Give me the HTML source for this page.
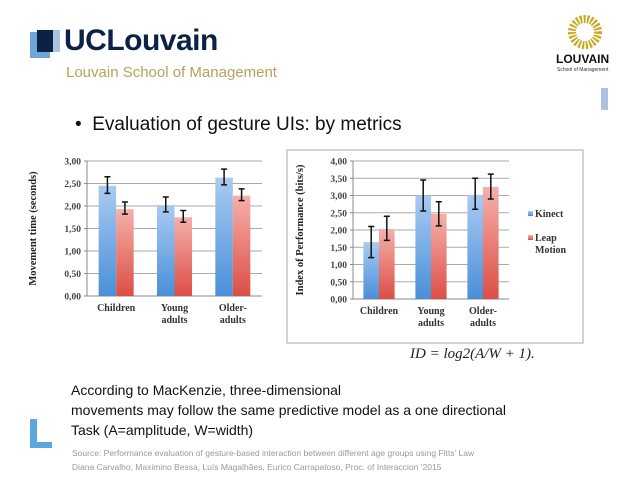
<!DOCTYPE html>
<html><head><meta charset="utf-8"><style>
body{margin:0;width:638px;height:478px;background:#fff;overflow:hidden;position:relative;font-family:"Liberation Sans",sans-serif}
.abs{position:absolute;margin:0}
</style></head><body>
<div class="abs" style="left:30px;top:32px;width:20px;height:26px;background:#6fa6d8"></div>
<div class="abs" style="left:37px;top:30px;width:16px;height:22px;background:#0c2146"></div>
<div class="abs" style="left:53px;top:30px;width:7px;height:22px;background:#a9c3e0"></div>
<div class="abs" style="left:64px;top:24px;font-size:30px;font-weight:bold;color:#0c2146;letter-spacing:-0.5px">UCLouvain</div>
<div class="abs" style="left:66px;top:64px;font-size:15px;color:#b5a35a">Louvain School of Management</div>
<svg class="abs" style="left:566px;top:13px" width="38" height="38"><circle cx="19" cy="19" r="13" fill="none" stroke="#c9a923" stroke-width="8" stroke-dasharray="2 1.5"/></svg>
<div class="abs" style="left:556px;top:52px;font-size:12px;font-weight:bold;color:#111;letter-spacing:0">LOUVAIN</div>
<div class="abs" style="left:557px;top:67px;font-size:5px;color:#333">School of Management</div>
<div class="abs" style="left:601px;top:88px;width:7px;height:22px;background:#a9c3e0"></div>
<div class="abs" style="left:75px;top:114px;font-size:19px;color:#111">•&nbsp;&nbsp;Evaluation of gesture UIs: by metrics</div>

<svg class="abs" style="left:0;top:0" width="638" height="478" id="charts">
<defs>
<linearGradient id="gb" x1="0" y1="0" x2="0" y2="1"><stop offset="0" stop-color="#a9cbf2"/><stop offset="1" stop-color="#4a8fd8"/></linearGradient>
<linearGradient id="gr" x1="0" y1="0" x2="0" y2="1"><stop offset="0" stop-color="#f6b0ab"/><stop offset="1" stop-color="#dc4e45"/></linearGradient>
</defs>
<rect x="287" y="150" width="296" height="193" fill="none" stroke="#aaa" stroke-width="1"/>
</svg>
<div class="abs" style="left:410px;top:346px;font-family:'Liberation Serif',serif;font-style:italic;font-size:15px;color:#222">ID = log2(A/W + 1).</div>
<div class="abs" style="left:71px;top:380px;font-size:14px;line-height:20px;color:#111">According to MacKenzie, three-dimensional<br>movements may follow the same predictive model as a one directional<br>Task (A=amplitude, W=width)</div>
<div class="abs" style="left:72px;top:446px;font-size:8.5px;line-height:14px;color:#999">Source: Performance evaluation of gesture-based interaction between different age groups using Fitts’ Law<br>Diana Carvalho, Maximino Bessa, Luís Magalhães, Eurico Carrapatoso, Proc. of Interaccion ’2015</div>
<div class="abs" style="left:30px;top:419px;width:7px;height:29px;background:#5aa7e0"></div>
<div class="abs" style="left:30px;top:442px;width:22px;height:6px;background:#5aa7e0"></div>
<script>
const categories=["Children","Young|adults","Older-|adults"];
const mtKinect=[2.45,2.02,2.63];
const mtKinectLo=[2.28,1.87,2.47];
const mtKinectHi=[2.65,2.20,2.82];
const mtLeap=[1.93,1.75,2.23];
const mtLeapLo=[1.82,1.64,2.12];
const mtLeapHi=[2.09,1.90,2.38];
const mtTicks=["0,00","0,50","1,00","1,50","2,00","2,50","3,00"];
const ipKinect=[1.65,3.00,3.02];
const ipKinectLo=[1.20,2.55,2.60];
const ipKinectHi=[2.10,3.45,3.50];
const ipLeap=[2.03,2.47,3.25];
const ipLeapLo=[1.70,2.12,2.90];
const ipLeapHi=[2.40,2.82,3.62];
const ipTicks=["0,00","0,50","1,00","1,50","2,00","2,50","3,00","3,50","4,00"];
const legendLabels=["Kinect","Leap|Motion"];
const NS="http://www.w3.org/2000/svg";
const svg=document.getElementById('charts');
function mk(t,a,p){const e=document.createElementNS(NS,t);for(const k in a)e.setAttribute(k,a[k]);(p||svg).appendChild(e);return e;}
function chart(o){
  const g=mk('g',{});
  
  
  const maxV=o.ticks.length-1; const top=parseFloat(o.ticks[maxV].replace(',','.'));
  const y=v=>o.y0-(v/top)*(o.y0-o.y1);
  const band=(o.x1-o.x0)/categories.length;
  const bw=band*0.3;
  o.ticks.forEach((t,i)=>{const v=parseFloat(t.replace(',','.'));const yy=y(v);
    const l=mk('line',{x1:o.x0,x2:o.x1,y1:yy,y2:yy,stroke:i===0?'#888':'#aaa','stroke-width':1},g);
    
    const tx=mk('text',{x:o.x0-6,y:yy+3.5,'text-anchor':'end','font-size':9.5,'font-weight':'bold','font-family':'Liberation Serif,serif',fill:'#444'},g);
    tx.textContent=t;
    const tk=mk('line',{x1:o.x0-3,x2:o.x0,y1:yy,y2:yy,stroke:'#888'},g);
    
  });
  const ax=mk('line',{x1:o.x0,x2:o.x0,y1:o.y1,y2:o.y0,stroke:'#888'},g);
  
  categories.forEach((c,i)=>{
    const cx=o.x0+band*(i+0.5);
    [[o.k,o.kl,o.kh,'url(#gb)',cx-bw],[o.l,o.ll,o.lh,'url(#gr)',cx]].forEach((s,j)=>{
      const r=mk('rect',{x:s[4],y:y(s[0][i]),width:bw,height:y(0)-y(s[0][i]),fill:s[3]},g);
      
      const ex=s[4]+bw/2;
      const eb=mk('path',{d:`M${ex},${y(s[1][i])}V${y(s[2][i])}M${ex-3},${y(s[1][i])}h6M${ex-3},${y(s[2][i])}h6`,stroke:'#111','stroke-width':1.5,fill:'none'},g);
      
    });
    c.split('|').forEach((ln,k)=>{const t=mk('text',{x:cx,y:o.y0+15+k*12,'text-anchor':'middle','font-size':10,'font-weight':'bold','font-family':'Liberation Serif,serif',fill:'#333'},g);
      t.textContent=ln;});
  });
  const at=mk('text',{x:0,y:0,transform:`translate(${o.tx},${(o.y0+o.y1)/2}) rotate(-90)`,'text-anchor':'middle','font-size':10.5,'font-weight':'bold','font-family':'Liberation Serif,serif',fill:'#222'},g);
  at.textContent=o.title;
}
chart({name:'movement-time-chart',x0:87,x1:262,y0:296,y1:161,ticks:mtTicks,k:mtKinect,kl:mtKinectLo,kh:mtKinectHi,l:mtLeap,ll:mtLeapLo,lh:mtLeapHi,title:'Movement time (seconds)',tx:36});
chart({name:'index-of-performance-chart',x0:353,x1:509,y0:299,y1:161,ticks:ipTicks,k:ipKinect,kl:ipKinectLo,kh:ipKinectHi,l:ipLeap,ll:ipLeapLo,lh:ipLeapHi,title:'Index of Performance (bits/s)',tx:303});
[['url(#gb)',217],['url(#gr)',241]].forEach((s,i)=>{
  const r=mk('rect',{x:528,y:s[1]-6,width:5,height:5,fill:s[0]});
  
  legendLabels[i].split('|').forEach((ln,k)=>{const t=mk('text',{x:535,y:s[1]+k*12,'font-size':10,'font-weight':'bold','font-family':'Liberation Serif,serif',fill:'#333'});
    t.textContent=ln;});
});
</script>
</body></html>
